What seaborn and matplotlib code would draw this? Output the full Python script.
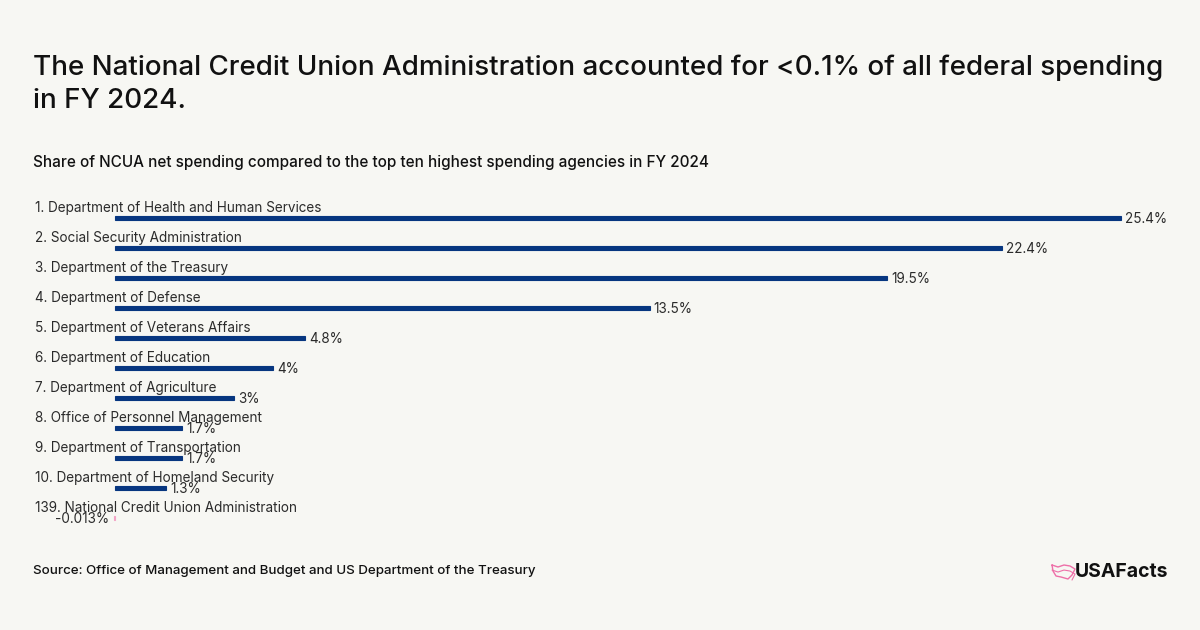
import numpy as np
import pandas as pd
import matplotlib
matplotlib.use("Agg")
import matplotlib.pyplot as plt
import seaborn as sns

# data
agencies = [
    "1. Department of Health and Human Services",
    "2. Social Security Administration",
    "3. Department of the Treasury",
    "4. Department of Defense",
    "5. Department of Veterans Affairs",
    "6. Department of Education",
    "7. Department of Agriculture",
    "8. Office of Personnel Management",
    "9. Department of Transportation",
    "10. Department of Homeland Security",
    "139. National Credit Union Administration",
]
shares = [25.4, 22.4, 19.5, 13.5, 4.8, 4.0, 3.0, 1.7, 1.7, 1.3, -0.013]
value_labels = ["25.4%", "22.4%", "19.5%", "13.5%", "4.8%", "4%", "3%",
                "1.7%", "1.7%", "1.3%", "-0.013%"]
groups = ["top"] * 10 + ["ncua"]

df = pd.DataFrame({"agency": agencies, "share": shares, "group": groups})

BG = "#f7f7f3"
NAVY = "#073680"
PINK = "#f4a3c6"
TXT = "#2b2b2b"

sns.set_theme(style="white")
plt.rcParams["font.family"] = ["Inter", "DejaVu Sans"]

W, H = 1200, 630
fig = plt.figure(figsize=(W / 100, H / 100), dpi=100, facecolor=BG)
ax = fig.add_axes([0, 0, 1, 1])
ax.set_facecolor(BG)

# pixel geometry: zero at x=115px, 25.4 at x=1121px; first bar at y=218px, 30px apart
x0_px, pxu = 115, (1121 - 115) / 25.4
y0_px, row = 218, 30
ax.set_xlim(-x0_px / pxu, (W - x0_px) / pxu)
ax.set_ylim((H - y0_px) / row, -y0_px / row)

sns.barplot(data=df, x="share", y="agency", hue="group", orient="h",
            palette={"top": NAVY, "ncua": PINK}, width=3.5 / row,
            dodge=False, legend=False, saturation=1, ax=ax)
for p in ax.patches:
    p.set_edgecolor(p.get_facecolor())
    p.set_linewidth(0.8)
ax.set_ylim((H - y0_px) / row, -y0_px / row)
ax.axis("off")

lab_x = (35 - x0_px) / pxu
for i, (name, v, vl) in enumerate(zip(agencies, shares, value_labels)):
    ax.text(lab_x, i - 0.33, name, fontsize=9.75, color=TXT, va="center", ha="left")
    if v >= 0:
        ax.text(v + 4 / pxu, i + 0.03, vl, fontsize=9.75, color=TXT, va="center", ha="left")
    else:
        ax.text(v - 5 / pxu, i + 0.02, vl, fontsize=9.75, color=TXT, va="center", ha="right")

fig.text(33 / W, 1 - 68 / H, "The National Credit Union Administration accounted for <0.1% of all federal spending",
         fontsize=20, fontweight="medium", color="#111111", va="center", ha="left")
fig.text(33 / W, 1 - 101 / H, "in FY 2024.",
         fontsize=20, fontweight="medium", color="#111111", va="center", ha="left")
fig.text(33 / W, 1 - 163 / H,
         "Share of NCUA net spending compared to the top ten highest spending agencies in FY 2024",
         fontsize=11, fontweight="medium", color="#111111", va="center", ha="left")
fig.text(33 / W, 1 - 571 / H, "Source: Office of Management and Budget and US Department of the Treasury",
         fontsize=9.6, fontweight="medium", color="#111111", va="center", ha="left")
fig.text(1168 / W, 1 - 572 / H, "USAFacts", fontsize=14, fontweight="bold",
         color="#111111", va="center", ha="right")

# small pink map outline for the logo
lx = np.array([1052, 1058, 1064, 1070, 1075, 1072, 1068, 1061, 1056, 1053, 1052]) / W
ly = 1 - np.array([565, 567, 565, 566, 569, 575, 579, 577, 576, 571, 565]) / H
fig.lines.append(plt.Line2D(lx, ly, transform=fig.transFigure, color="#ee6fa8", lw=1))
fig.lines.append(plt.Line2D(lx[:6], ly[:6] - 0.008, transform=fig.transFigure, color="#ee6fa8", lw=0.8))

fig.savefig("out.png", dpi=100, facecolor=BG)
